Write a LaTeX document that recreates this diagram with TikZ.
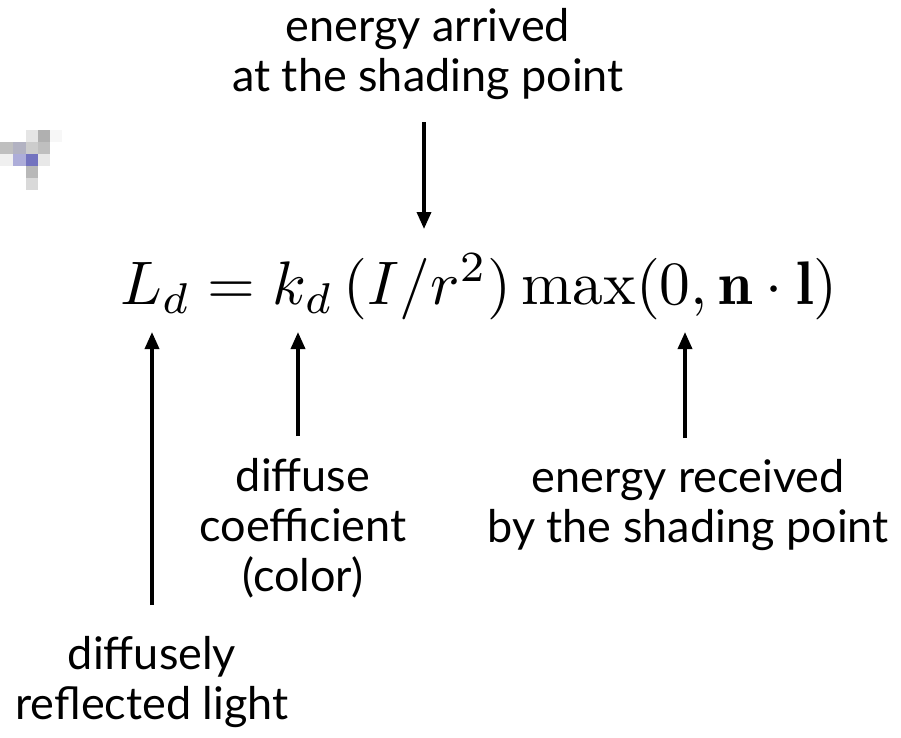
\documentclass[tikz,border=0pt]{standalone}
\usepackage{fontspec}
\setsansfont{Lato}
\usetikzlibrary{arrows.meta}
\begin{document}
\begin{tikzpicture}[x=1pt,y=-1pt,
  lbl/.style={font=\sffamily\fontsize{45}{50}\selectfont, align=center, inner sep=0pt},
  arr/.style={line width=3.5pt, -{Triangle[width=14pt,length=17pt]}}]
\useasboundingbox (0,0) rectangle (901,737);
% pixel blob
\fill[gray!20!white] (26,130) rectangle (38,142);
\fill[black!31] (38,130) rectangle (50,142);
\fill[black!3] (50,130) rectangle (62,142);
\fill[black!25] (0,142) rectangle (13,154);
\fill[blue!20!black!30] (13,142) rectangle (26,154);
\fill[black!20] (26,142) rectangle (38,154);
\fill[black!25] (38,142) rectangle (50,154);
\fill[black!6] (0,154) rectangle (13,166);
\fill[blue!20!white!85!black] (13,154) rectangle (26,166);
\fill[blue!40!white!75!black] (26,154) rectangle (38,166);
\fill[black!9] (38,154) rectangle (50,166);
\fill[black!28] (26,166) rectangle (38,178);
\fill[black!15] (26,178) rectangle (38,190);
% equation
\node[inner sep=0pt, anchor=base] (eq) at (479,304)
  {\scalebox{6.15}{$L_d = k_d\,(I/r^2)\max(0,\mathbf{n}\cdot\mathbf{l})$}};
% labels
\node[lbl] (top) at (428,54) {energy arrived\\at the shading point};
\node[lbl] (dif) at (303,528) {diffuse\\coefficient\\(color)};
\node[lbl] (rec) at (688,505) {energy received\\by the shading point};
\node[lbl] (refl) at (152,682) {diffusely\\reflected light};
% arrow endpoints
\coordinate (t0) at (424,122);
\coordinate (t1) at (424,229);
\coordinate (a0) at (152,605);
\coordinate (a1) at (152,332);
\coordinate (b0) at (298,436);
\coordinate (b1) at (298,332);
\coordinate (c0) at (685,438);
\coordinate (c1) at (685,332);
\draw[arr] (t0) -- (t1);
\draw[arr] (a0) -- (a1);
\draw[arr] (b0) -- (b1);
\draw[arr] (c0) -- (c1);
\end{tikzpicture}
\end{document}
